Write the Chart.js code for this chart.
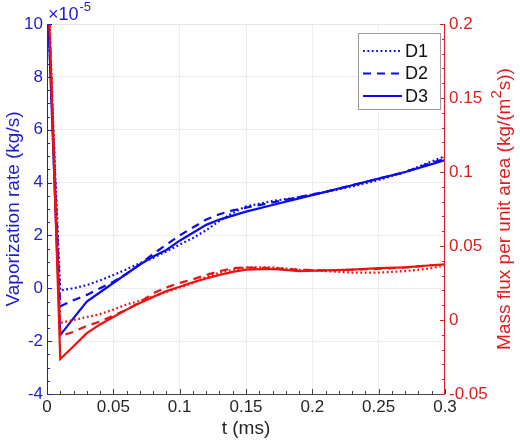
<!DOCTYPE html>
<html>
<head>
<meta charset="utf-8">
<script src="https://cdn.jsdelivr.net/npm/chart.js@4.4.0/dist/chart.umd.min.js"></script>
<style>
  html, body { margin: 0; padding: 0; background: #fff; }
</style>
</head>
<body>
<canvas id="vapChart" width="520" height="443"></canvas>
<script>
// time (ms)
var tValues = [0, 0.01, 0.02, 0.03, 0.04, 0.05, 0.06, 0.07, 0.08, 0.09, 0.1, 0.11, 0.12, 0.13, 0.14, 0.15, 0.17, 0.19, 0.21, 0.23, 0.25, 0.27, 0.29, 0.3];

// vaporization rate, x1e-5 kg/s (left axis)
var rateD1 = [11.5, -0.08, 0.0, 0.12, 0.3, 0.5, 0.72, 0.95, 1.15, 1.4, 1.65, 1.9, 2.2, 2.55, 2.85, 3.1, 3.3, 3.45, 3.65, 3.85, 4.1, 4.4, 4.8, 5.0];
var rateD2 = [11.5, -0.68, -0.45, -0.25, 0.0, 0.25, 0.55, 0.9, 1.3, 1.65, 2.0, 2.3, 2.6, 2.8, 2.95, 3.05, 3.25, 3.45, 3.65, 3.9, 4.15, 4.4, 4.75, 4.9];
var rateD3 = [11.5, -1.77, -1.13, -0.5, -0.15, 0.2, 0.55, 0.9, 1.2, 1.45, 1.8, 2.1, 2.4, 2.6, 2.75, 2.9, 3.15, 3.4, 3.65, 3.9, 4.15, 4.4, 4.7, 4.85];

// mass flux per unit area, kg/(m2 s) (right axis)
var fluxD1 = [0.25, -0.002, 0.0, 0.002, 0.004, 0.007, 0.0105, 0.013, 0.016, 0.019, 0.022, 0.025, 0.029, 0.032, 0.034, 0.0355, 0.0355, 0.034, 0.033, 0.032, 0.032, 0.033, 0.035, 0.037];
var fluxD2 = [0.25, -0.011, -0.008, -0.004, -0.001, 0.003, 0.007, 0.012, 0.018, 0.022, 0.025, 0.0275, 0.0305, 0.033, 0.035, 0.0355, 0.035, 0.034, 0.0335, 0.034, 0.0345, 0.0355, 0.037, 0.0375];
var fluxD3 = [0.25, -0.0264, -0.0177, -0.0089, -0.003, 0.002, 0.007, 0.0115, 0.0155, 0.0195, 0.0225, 0.0255, 0.028, 0.0305, 0.0325, 0.034, 0.0345, 0.033, 0.0335, 0.034, 0.035, 0.0355, 0.037, 0.0376];

var seriesNames = ["D1", "D2", "D3"];

var BLUE = "#0b0bee";
var RED = "#ee1111";
var BLUE_TXT = "#1c1cd0";
var RED_TXT = "#dc1e1e";
var FONT = "'Liberation Sans', Arial, Helvetica, sans-serif";
var DOTTED = [1.8, 2.6];
var DASHED = [8, 6];

function pts(ys) {
  return tValues.map(function (t, i) { return { x: t, y: ys[i] }; });
}

function fmt(v) {
  return String(Number(v.toFixed(3)));
}

// inward ticks, axis lines, titles, legend (MATLAB look)
var matlabDecor = {
  id: "matlabDecor",
  afterDraw: function (chart) {
    var ctx = chart.ctx;
    var a = chart.chartArea;
    var xs = chart.scales.x, yl = chart.scales.y, yr = chart.scales.y1;
    var v;
    ctx.save();
    ctx.lineWidth = 1;

    // top border (light)
    ctx.strokeStyle = "#e4e4e4";
    ctx.beginPath();
    ctx.moveTo(a.left, a.top + 0.5);
    ctx.lineTo(a.right, a.top + 0.5);
    ctx.stroke();

    // bottom axis
    ctx.strokeStyle = "#444";
    ctx.beginPath();
    ctx.moveTo(a.left, a.bottom + 0.5);
    ctx.lineTo(a.right, a.bottom + 0.5);
    for (v = 0; v <= 30; v++) {
      var px = Math.round(xs.getPixelForValue(v / 100)) + 0.5;
      var len = v % 5 === 0 ? 5 : 3;
      ctx.moveTo(px, a.bottom);
      ctx.lineTo(px, a.bottom - len);
    }
    ctx.stroke();

    // left axis
    ctx.strokeStyle = BLUE_TXT;
    ctx.beginPath();
    ctx.moveTo(a.left + 0.5, a.top);
    ctx.lineTo(a.left + 0.5, a.bottom + 1);
    for (v = -8; v <= 20; v++) {
      var py = Math.round(yl.getPixelForValue(v / 2)) + 0.5;
      var l2 = v % 4 === 0 ? 5 : 3;
      ctx.moveTo(a.left, py);
      ctx.lineTo(a.left + l2, py);
    }
    ctx.stroke();

    // right axis
    ctx.strokeStyle = RED_TXT;
    ctx.beginPath();
    ctx.moveTo(a.right - 0.5, a.top);
    ctx.lineTo(a.right - 0.5, a.bottom + 1);
    for (v = -5; v <= 20; v++) {
      var pr = Math.round(yr.getPixelForValue(v / 100)) + 0.5;
      var l3 = v % 5 === 0 ? 5 : 3;
      ctx.moveTo(a.right, pr);
      ctx.lineTo(a.right - l3, pr);
    }
    ctx.stroke();

    // exponent label
    ctx.fillStyle = BLUE_TXT;
    ctx.textBaseline = "alphabetic";
    ctx.textAlign = "left";
    ctx.font = "18px " + FONT;
    ctx.fillText("\u00d710", a.left + 1, 20);
    var w10 = ctx.measureText("\u00d710").width;
    ctx.font = "13px " + FONT;
    ctx.fillText("-5", a.left + 1 + w10 + 1, 11);

    // axis titles
    var midY = (a.top + a.bottom) / 2;
    ctx.font = "19px " + FONT;
    ctx.textBaseline = "middle";
    ctx.textAlign = "center";
    ctx.fillStyle = BLUE_TXT;
    ctx.save();
    ctx.translate(14, midY);
    ctx.rotate(-Math.PI / 2);
    ctx.fillText("Vaporization rate (kg/s)", 0, 0);
    ctx.restore();

    ctx.fillStyle = RED_TXT;
    ctx.save();
    ctx.translate(505, midY);
    ctx.rotate(-Math.PI / 2);
    var p1 = "Mass flux per unit area (kg/(m", p2 = "2", p3 = "s))";
    ctx.font = "19px " + FONT;
    var w1 = ctx.measureText(p1).width, w3 = ctx.measureText(p3).width;
    ctx.font = "15px " + FONT;
    var w2 = ctx.measureText(p2).width;
    var x0 = -(w1 + w2 + w3) / 2;
    ctx.textAlign = "left";
    ctx.font = "19px " + FONT;
    ctx.fillText(p1, x0, 0);
    ctx.font = "15px " + FONT;
    ctx.fillText(p2, x0 + w1, -8);
    ctx.font = "19px " + FONT;
    ctx.fillText(p3, x0 + w1 + w2, 0);
    ctx.restore();

    ctx.fillStyle = "#262626";
    ctx.textAlign = "center";
    ctx.font = "19px " + FONT;
    ctx.fillText("t (ms)", (a.left + a.right) / 2, 429);

    // legend
    var bx = 358.5, by = 33.5, bw = 82, bh = 76;
    ctx.fillStyle = "#fff";
    ctx.fillRect(bx, by, bw, bh);
    ctx.strokeStyle = "#9a9a9a";
    ctx.strokeRect(bx, by, bw, bh);
    var dashes = [DOTTED, DASHED, []];
    var rows = [51, 73.5, 96];
    ctx.font = "18px " + FONT;
    ctx.textAlign = "left";
    for (var i = 0; i < 3; i++) {
      ctx.strokeStyle = BLUE;
      ctx.lineWidth = 2.2;
      ctx.setLineDash(dashes[i]);
      ctx.beginPath();
      ctx.moveTo(363, rows[i]);
      ctx.lineTo(402, rows[i]);
      ctx.stroke();
      ctx.setLineDash([]);
      ctx.fillStyle = "#111";
      ctx.fillText(seriesNames[i], 405, rows[i] + 1);
    }
    ctx.restore();
  }
};

function line(ys, color, dash, axis) {
  return {
    data: pts(ys),
    borderColor: color,
    borderWidth: 2.2,
    borderDash: dash,
    pointRadius: 0,
    tension: 0,
    fill: false,
    yAxisID: axis
  };
}

new Chart("vapChart", {
  type: "line",
  data: {
    datasets: [
      line(fluxD1, RED, DOTTED, "y1"),
      line(fluxD2, RED, DASHED, "y1"),
      line(fluxD3, RED, [], "y1"),
      line(rateD1, BLUE, DOTTED, "y"),
      line(rateD2, BLUE, DASHED, "y"),
      line(rateD3, BLUE, [], "y")
    ]
  },
  options: {
    responsive: false,
    animation: false,
    devicePixelRatio: 1,
    layout: { padding: { top: 24, left: 0, right: 0, bottom: 0 } },
    plugins: {
      legend: { display: false },
      tooltip: { enabled: false }
    },
    scales: {
      x: {
        type: "linear",
        min: 0,
        max: 0.3,
        ticks: {
          stepSize: 0.05,
          padding: 3,
          color: "#262626",
          font: { family: FONT, size: 17 },
          maxRotation: 0,
          callback: function (v) { return fmt(v); }
        },
        grid: { color: "#ececf2", drawTicks: false },
        border: { display: false },
        afterFit: function (s) { s.height = 49; }
      },
      y: {
        position: "left",
        min: -4,
        max: 10,
        ticks: {
          stepSize: 2,
          padding: 4,
          color: BLUE_TXT,
          font: { family: FONT, size: 17 }
        },
        grid: { color: "#ececf2", drawTicks: false },
        border: { display: false },
        afterFit: function (s) { s.width = 47; }
      },
      y1: {
        position: "right",
        min: -0.05,
        max: 0.2,
        ticks: {
          stepSize: 0.05,
          padding: 4,
          color: RED_TXT,
          font: { family: FONT, size: 17 },
          callback: function (v) { return fmt(v); }
        },
        grid: { display: false, drawTicks: false },
        border: { display: false },
        afterFit: function (s) { s.width = 75; }
      }
    }
  },
  plugins: [matlabDecor]
});
</script>
</body>
</html>
